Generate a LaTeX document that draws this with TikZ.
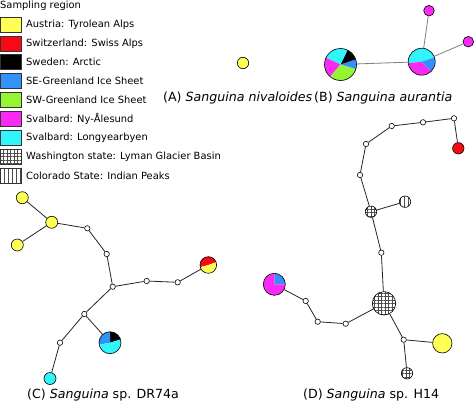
\documentclass[tikz,border=0pt]{standalone}
\usepackage{fontspec}
\setmainfont{DejaVu Sans}
\usetikzlibrary{patterns.meta}
\definecolor{cY}{HTML}{FFFF55}
\definecolor{cR}{HTML}{F80A14}
\definecolor{cK}{HTML}{000000}
\definecolor{cB}{HTML}{3392FA}
\definecolor{cG}{HTML}{96F532}
\definecolor{cM}{HTML}{FA2AF5}
\definecolor{cC}{HTML}{30F5FA}
\newcommand\pieslice[3]{\fill[#1] (path picture bounding box.center) -- ++(#2:30) arc[start angle=#2,end angle=#3,radius=30] -- cycle;}
\begin{document}
\begin{tikzpicture}[x=1bp,y=1bp,
  hap/.style={circle,draw=black,line width=0.6bp,inner sep=0,minimum size=#1},
  mv/.style={circle,draw=black,fill=white,line width=0.6bp,inner sep=0,minimum size=5.4bp},
  gridpat/.style={pattern={Hatch[angle=0,distance=3.5bp,line width=0.5bp]},pattern color=black!70},
  vlinepat/.style={pattern={Lines[angle=90,distance=4bp,line width=0.5bp]},pattern color=black!70},
  fY/.style={fill=cY},fR/.style={fill=cR},fK/.style={fill=cK},fB/.style={fill=cB},
  fG/.style={fill=cG},fM/.style={fill=cM},fC/.style={fill=cC},
  edgeB/.style={draw=black!50,line width=0.8bp},
  edgeCD/.style={draw=black!85,line width=0.8bp},
  legbox/.style={draw=black!80,line width=0.8bp,minimum width=21bp,minimum height=15bp,inner sep=0},
  legtxt/.style={anchor=west,inner sep=0,font=\fontsize{9.9bp}{12bp}\selectfont},
  panlab/.style={anchor=west,inner sep=0,font=\fontsize{12.6bp}{15bp}\selectfont}]
\useasboundingbox[fill=white] (0,0) rectangle (474,405);

% ---------- legend ----------
\node[legtxt] (title) at (0,399.5) {Sampling region};
\foreach \i/\c/\t in {0/fY/{Austria: Tyrolean Alps},
                      1/fR/{Switzerland: Swiss Alps},
                      2/fK/{Sweden: Arctic},
                      3/fB/{SE-Greenland Ice Sheet},
                      4/fG/{SW-Greenland Ice Sheet},
                      5/fM/{Svalbard: Ny-Ålesund},
                      6/fC/{Svalbard: Longyearbyen},
                      7/gridpat/{Washington state: Lyman Glacier Basin},
                      8/vlinepat/{Colorado State: Indian Peaks}}{
  \node[legbox,\c] (lb\i) at (11,380.5-18.9*\i) {};
  \node[legtxt] (lt\i) at (26,380.5-18.9*\i) {\t};
}

% ---------- panel A ----------
\node[hap=11.4bp,fill=cY] (a1) at (243,342) {};
\node[panlab] (labA) at (163,307) {(A) \textit{Sanguina nivaloides}};

% ---------- panel B ----------
\node[hap=32bp,path picture={
   \pieslice{cB}{-17}{19}\pieslice{cK}{19}{64}\pieslice{cC}{64}{155}
   \pieslice{cM}{155}{230}\pieslice{cG}{230}{343}}] (b1) at (340.5,340.5) {};
\node[hap=27bp,path picture={
   \pieslice{cC}{18}{187}\pieslice{cM}{187}{315}\pieslice{cB}{315}{378}}] (b2) at (421.7,343.3) {};
\node[hap=10.6bp,fill=cM] (b3) at (429,394.3) {};
\node[hap=10.6bp,fill=cM] (b4) at (468.3,363.3) {};
\draw[edgeB] (b1) -- (b2);
\draw[edgeB] (b2) -- (b3);
\draw[edgeB] (b2) -- (b4);
\node[panlab] (labB) at (314,307) {(B) \textit{Sanguina aurantia}};

% ---------- panel C ----------
\node[hap=12bp,fill=cY] (cy1) at (22.3,207.3) {};
\node[hap=12bp,fill=cY] (cy2) at (51.7,182.7) {};
\node[hap=12bp,fill=cY] (cy3) at (17.3,160) {};
\node[mv] (c1) at (87.3,176.7) {};
\node[mv] (c2) at (106.7,151) {};
\node[mv] (c3) at (112.7,118.3) {};
\node[mv] (c4) at (146.7,124) {};
\node[mv] (c5) at (177.7,122.7) {};
\node[hap=16.6bp,path picture={\pieslice{cR}{20}{195}\pieslice{cY}{195}{380}}] (cry) at (208.3,140) {};
\node[mv] (c6) at (84.3,91) {};
\node[hap=22bp,path picture={\pieslice{cK}{17}{90}\pieslice{cB}{90}{190}\pieslice{cC}{190}{377}}] (cbig) at (110,62.3) {};
\node[mv] (c7) at (60,62.3) {};
\node[hap=12bp,fill=cC] (ccy) at (50,26.5) {};
\draw[edgeCD] (cy1) -- (cy2);
\draw[edgeCD] (cy3) -- (cy2);
\draw[edgeCD] (cy2) -- (c1);
\draw[edgeCD] (c1) -- (c2);
\draw[edgeCD] (c2) -- (c3);
\draw[edgeCD] (c3) -- (c4);
\draw[edgeCD] (c4) -- (c5);
\draw[edgeCD] (c5) -- (cry);
\draw[edgeCD] (c3) -- (c6);
\draw[edgeCD] (c6) -- (cbig);
\draw[edgeCD] (c6) -- (c7);
\draw[edgeCD] (c7) -- (ccy);
\node[panlab] (labC) at (27,9.5) {(C) \textit{Sanguina} sp. DR74a};

% ---------- panel D ----------
\node[mv] (d1) at (454,286.7) {};
\node[hap=11.4bp,fill=cR] (dred) at (458.3,256.7) {};
\node[mv] (d2) at (423,282.7) {};
\node[mv] (d3) at (391.7,279) {};
\node[mv] (d4) at (366,261) {};
\node[mv] (d5) at (360,230) {};
\node[hap=11.4bp,gridpat] (dh1) at (371,193.3) {};
\node[hap=11.4bp,vlinepat] (dv1) at (405,203.3) {};
\node[mv] (d6) at (381.3,152.3) {};
\node[hap=23.4bp,gridpat] (dh2) at (384,101.7) {};
\node[mv] (d7) at (345.7,81.3) {};
\node[mv] (d8) at (317.7,83.3) {};
\node[mv] (d9) at (305.7,104) {};
\node[hap=22bp,path picture={\pieslice{cB}{0}{90}\pieslice{cM}{90}{360}}] (dmb) at (274.3,120.7) {};
\node[mv] (d10) at (403.7,65.3) {};
\node[hap=19.4bp,fill=cY] (dy) at (442.3,61.7) {};
\node[hap=11.4bp,gridpat] (dh3) at (407,31.7) {};
\draw[edgeCD] (dred) -- (d1);
\draw[edgeCD] (d1) -- (d2);
\draw[edgeCD] (d2) -- (d3);
\draw[edgeCD] (d3) -- (d4);
\draw[edgeCD] (d4) -- (d5);
\draw[edgeCD] (d5) -- (dh1);
\draw[edgeCD] (dh1) -- (dv1);
\draw[edgeCD] (dh1) -- (d6);
\draw[edgeCD] (d6) -- (dh2);
\draw[edgeCD] (dh2) -- (d7);
\draw[edgeCD] (d7) -- (d8);
\draw[edgeCD] (d8) -- (d9);
\draw[edgeCD] (d9) -- (dmb);
\draw[edgeCD] (dh2) -- (d10);
\draw[edgeCD] (d10) -- (dy);
\draw[edgeCD] (d10) -- (dh3);
\node[panlab] (labD) at (303,9.5) {(D) \textit{Sanguina} sp. H14};
\end{tikzpicture}
\end{document}
